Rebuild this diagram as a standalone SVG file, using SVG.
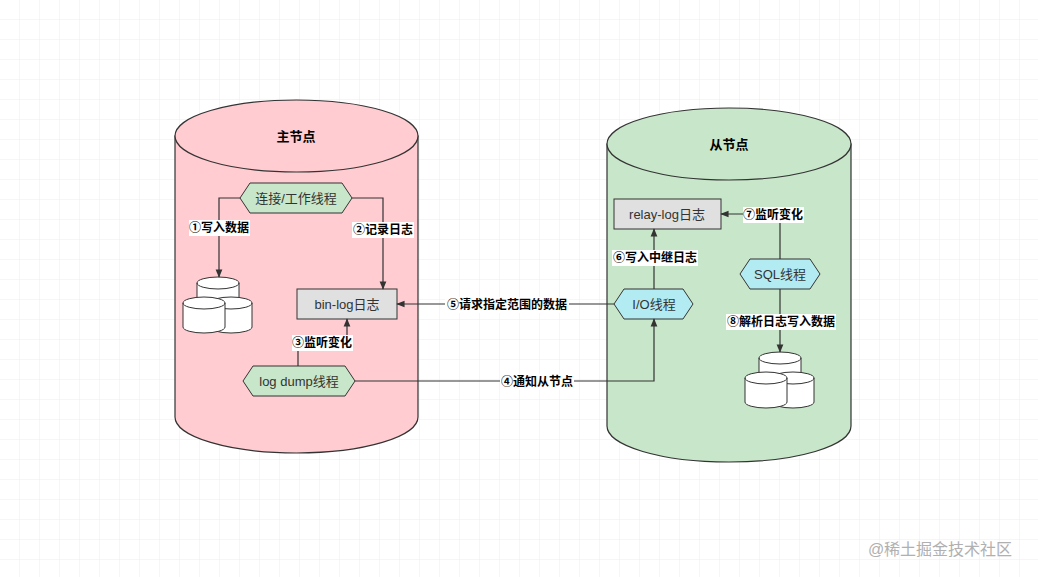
<svg xmlns="http://www.w3.org/2000/svg" width="1038" height="577" viewBox="0 0 1038 577">
<defs>
<pattern id="g" width="20" height="20" patternUnits="userSpaceOnUse"><path d="M20 0V20H0" fill="none" stroke="#ececec" stroke-width="1"/></pattern>
<marker id="a" viewBox="0 0 10 10" refX="9" refY="5" markerWidth="7" markerHeight="7" orient="auto"><path d="M0 1L10 5L0 9z" fill="#333"/></marker>
<g id="db"><path d="M0 6a21 6 0 0 1 42 0v24a21 6 0 0 1-42 0z" fill="#fff" stroke="#333"/><path d="M0 6a21 6 0 0 0 42 0" fill="none" stroke="#333"/></g>
</defs>
<style>
text{font-family:"Liberation Sans","Noto Sans CJK SC",sans-serif;font-size:13px;text-anchor:middle;dominant-baseline:central;fill:#333}
.b{font-weight:bold;font-size:13px;fill:#000}
.l{font-size:12px;font-weight:bold;fill:#000}
.bg{fill:#fff}
.c{stroke:#333;stroke-width:1.2;fill:none}
</style>
<rect width="1038" height="577" fill="#fff"/>
<rect width="1038" height="577" fill="url(#g)"/>
<g id="master">
<path d="M175 136v281a121.5 36 0 0 0 243 0V136z" fill="#ffccd1" stroke="#333" stroke-width="1.2"/>
<ellipse cx="296.5" cy="136" rx="121.5" ry="36" fill="#ffccd1" stroke="#333" stroke-width="1.2"/>
<text x="296" y="136" class="b">主节点</text>
</g>
<g id="slave">
<path d="M607 144v282a122 36 0 0 0 244 0V144z" fill="#c8e6c9" stroke="#333" stroke-width="1.2"/>
<ellipse cx="729" cy="144" rx="122" ry="36" fill="#c8e6c9" stroke="#333" stroke-width="1.2"/>
<text x="729" y="144" class="b">从节点</text>
</g>
<g id="conn"><path d="M250 183h92l10 15l-10 15h-92l-10-15z" fill="#c8e6c9" stroke="#333"/><text x="296" y="198">连接/工作线程</text></g>
<g id="binlog"><rect x="297" y="289" width="100" height="30" fill="#e0e0e0" stroke="#333"/><text x="347" y="304">bin-log日志</text></g>
<g id="dump"><path d="M253 366h92l10 15l-10 15h-92l-10-15z" fill="#c8e6c9" stroke="#333"/><text x="299" y="381">log dump线程</text></g>
<g id="db1"><use href="#db" x="197" y="277"/><use href="#db" x="210" y="297"/><use href="#db" x="183" y="297"/></g>
<g id="relay"><rect x="614" y="199" width="107" height="30" fill="#e0e0e0" stroke="#333"/><text x="667" y="214">relay-log日志</text></g>
<g id="io"><path d="M624 289h59l10 15l-10 15h-59l-10-15z" fill="#b2ebf2" stroke="#333"/><text x="654" y="304">I/O线程</text></g>
<g id="sql"><path d="M750 259h60l10 15l-10 15h-60l-10-15z" fill="#b2ebf2" stroke="#333"/><text x="780" y="274">SQL线程</text></g>
<g id="db2"><use href="#db" x="759" y="352"/><use href="#db" x="772" y="372"/><use href="#db" x="745" y="372"/></g>
<g id="edges">
<path class="c" d="M240 198H219V277" marker-end="url(#a)"/>
<path class="c" d="M352 198H383V289" marker-end="url(#a)"/>
<path class="c" d="M298 366V343H347V319" marker-end="url(#a)"/>
<path class="c" d="M355 381H654V319" marker-end="url(#a)"/>
<path class="c" d="M614 304H397" marker-end="url(#a)"/>
<path class="c" d="M654 289V229" marker-end="url(#a)"/>
<path class="c" d="M780 259V214H721" marker-end="url(#a)"/>
<path class="c" d="M780 289V352" marker-end="url(#a)"/>
<rect class="bg" x="189" y="220" width="61" height="16"/><text class="l" x="219" y="228">①写入数据</text>
<rect class="bg" x="352" y="222" width="62" height="16"/><text class="l" x="383" y="230">②记录日志</text>
<rect class="bg" x="292" y="335" width="61" height="16"/><text class="l" x="322" y="343">③监听变化</text>
<rect class="bg" x="500" y="374" width="74" height="16"/><text class="l" x="537" y="382">④通知从节点</text>
<rect class="bg" x="445" y="297" width="124" height="16"/><text class="l" x="507" y="305">⑤请求指定范围的数据</text>
<rect class="bg" x="612" y="250" width="86" height="16"/><text class="l" x="655" y="258">⑥写入中继日志</text>
<rect class="bg" x="743" y="207" width="61" height="16"/><text class="l" x="773" y="215">⑦监听变化</text>
<rect class="bg" x="726" y="314" width="110" height="16"/><text class="l" x="781" y="322">⑧解析日志写入数据</text>
</g>
<text x="940" y="549" style="font-size:16px;fill:#b0b0b0">@稀土掘金技术社区</text>
</svg>
